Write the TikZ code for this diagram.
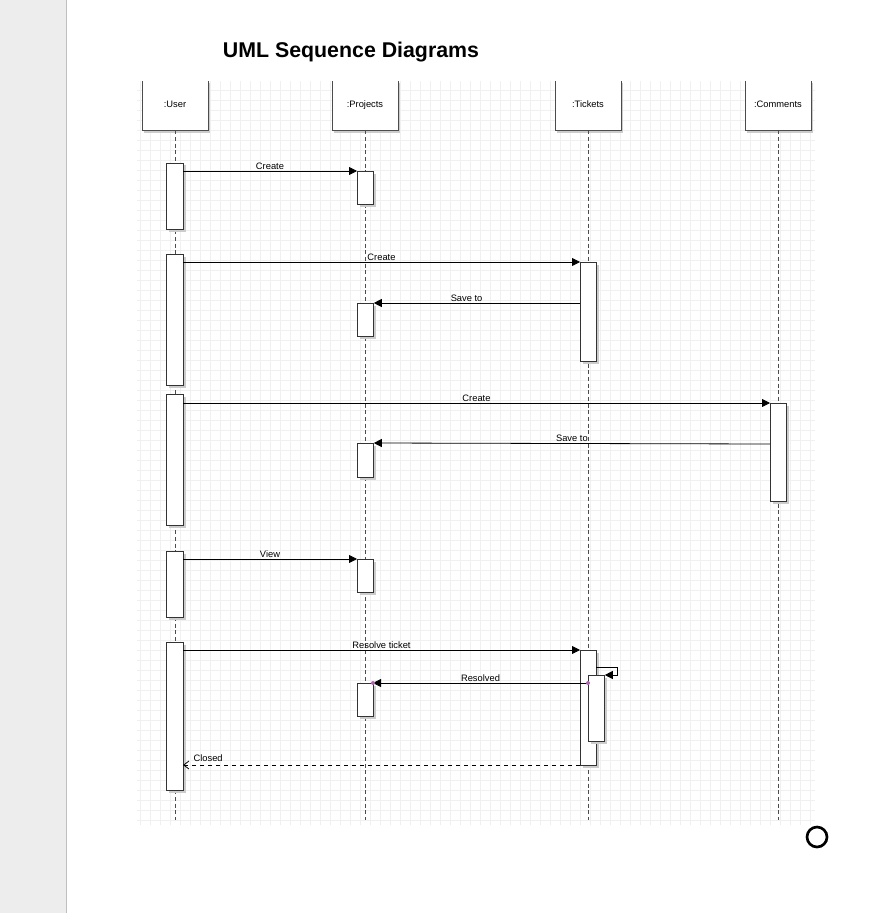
\documentclass[tikz,border=0pt]{standalone}
\usepackage{fontspec}
\setmainfont{Liberation Sans}
\usetikzlibrary{arrows.meta}
\begin{document}
\begin{tikzpicture}[x=0.75pt,y=-0.75pt,
  act/.style={draw=black!80,fill=white,line width=0.6pt},
  head/.style={draw=black!70,fill=white,line width=0.6pt,minimum width=49.5pt,minimum height=37.5pt,inner sep=0pt,text height=5pt,text depth=1.5pt,font=\fontsize{7}{8}\selectfont},
  life/.style={dash pattern=on 3pt off 2pt,black!70,line width=0.6pt},
  msg/.style={-{Triangle[length=6pt,width=6pt]},line width=0.6pt},
  ret/.style={-{Straight Barb[length=4pt,width=6pt]},dashed,line width=0.6pt},
  lbl/.style={font=\fontsize{7}{8}\selectfont,inner sep=1pt,above}]
\useasboundingbox (0,0) rectangle (874,913);
\fill[white] (0,0) rectangle (874,913);
\fill[black!7] (0,0) rectangle (66,913);
\draw[black!25] (66,0) -- (66,913);
% grid
\draw[black!6,line width=0.4pt,step=7.5pt] (137,80) grid (815,825);
\node[font=\bfseries\fontsize{16}{18}\selectfont] (title) at (351,52) {UML Sequence Diagrams};
% heads
\foreach \n/\x/\t in {u/175/:User,p/365/:Projects,t/588/:Tickets,c/778/:Comments}{
  \fill[black!20] (\x-31,83) rectangle (\x+35,133);
  \node[head] (\n) at (\x,105) {\t};
  \coordinate (\n e) at (\x,820);
  \draw[life] (\n.south) -- (\n e);
}
\fill[white] (130,72) rectangle (820,81);
% activations
\newcommand{\actbox}[5]{\fill[black!20] (#2+2.5,#3+2.5) rectangle (#2+#4+2.5,#3+#5+2.5);
  \node[act,minimum width=#4*0.75pt,minimum height=#5*0.75pt,inner sep=0pt,anchor=north west] (#1) at (#2,#3) {};}
\actbox{u1}{166}{163}{17}{66}
\actbox{u2}{166}{254}{17}{131}
\actbox{u3}{166}{394}{17}{131}
\actbox{u4}{166}{551}{17}{66}
\actbox{u5}{166}{642}{17}{148}
\actbox{p1}{357}{171}{16}{33}
\actbox{p2}{357}{303}{16}{33}
\actbox{p3}{357}{443}{16}{34}
\actbox{p4}{357}{559}{16}{33}
\actbox{p5}{357}{683}{16}{33}
\actbox{t1}{580}{262}{16}{99}
\actbox{t2}{580}{650}{16}{115}
\actbox{t3}{588}{675}{16}{66}
\actbox{c1}{770}{403}{16}{98}
% message anchor points
\coordinate (s1) at (183,171); \coordinate (s2) at (183,262);
\coordinate (s3) at (580,303); \coordinate (s4) at (183,403);
\coordinate (s5) at (770,444); \coordinate (s6) at (183,559);
\coordinate (s7) at (183,650); \coordinate (s8) at (588,683);
\coordinate (e8) at (373,683);
\coordinate (s9) at (580,765); \coordinate (e9) at (183,765);
\draw[msg] (s1) -- node[lbl]{Create} (p1.north west);
\draw[msg] (s2) -- node[lbl,pos=0.5]{Create} (t1.north west);
\draw[msg] (s3) -- node[lbl,pos=0.55]{Save to} (p2.north east);
\draw[msg] (s4) -- node[lbl]{Create} (c1.north west);
\draw[msg] (s5) -- node[lbl,pos=0.5]{Save to} (p3.north east);
\draw[msg] (s6) -- node[lbl]{View} (p4.north west);
\draw[msg] (s7) -- node[lbl]{Resolve ticket} (t2.north west);
\coordinate (sc1) at (596,667); \coordinate (sc2) at (617,667); \coordinate (sc3) at (617,675);
\draw[msg] (sc1) -- (sc2) -- (sc3) -- (t3.north east);
\draw[msg] (s8) -- node[lbl,pos=0.5]{Resolved} (e8);
\fill[violet!60] (s8) circle (1.5pt) (e8) circle (1.5pt);
\draw[ret] (s9) -- (e9);
\node[lbl,anchor=south west] (cl) at (192,763) {Closed};
\draw[line width=2pt] (817,837) circle (7.5pt);
\end{tikzpicture}
\end{document}
